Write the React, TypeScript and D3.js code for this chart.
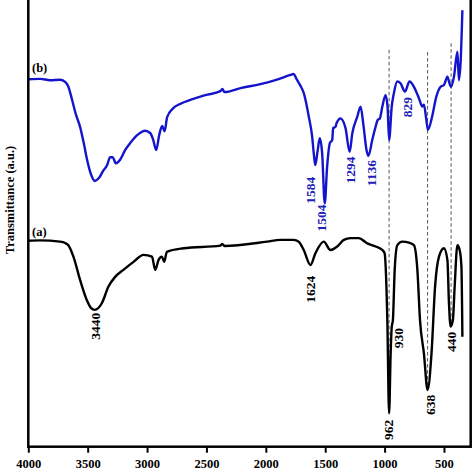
import React, { useEffect, useRef } from "react";
import * as d3 from "d3";

// FTIR spectrum (b) – blue, upper trace: [wavenumber cm-1, transmittance a.u.]
const seriesB: [number, number][] = [
  [4000, 83.5], [3900, 83.6], [3817, 83.3], [3733, 83.4], [3690, 82.9], [3665, 82.0], [3631, 78.8],
  [3598, 75.4], [3564, 72.7], [3530, 68.6], [3505, 65.2], [3471, 61.8], [3440, 60.4], [3404, 61.1],
  [3370, 62.7], [3336, 64.0], [3311, 65.8], [3290, 65.8], [3262, 64.4], [3227, 65.2], [3185, 67.4],
  [3142, 69.0], [3083, 70.8], [3016, 71.8], [2974, 71.3], [2949, 69.8], [2923, 67.4], [2898, 70.8],
  [2873, 72.9], [2852, 71.7], [2831, 74.9], [2781, 76.9], [2722, 77.9], [2636, 78.8], [2510, 79.9],
  [2383, 80.8], [2366, 81.3], [2349, 80.6], [2214, 81.5], [2046, 82.4], [1920, 83.3], [1793, 84.5],
  [1768, 84.7], [1736, 83.3], [1708, 82.0], [1681, 80.4], [1638, 75.0], [1610, 70.5], [1595, 66.3],
  [1584, 64.0], [1563, 67.4], [1546, 70.1], [1526, 66.8], [1504, 55.3], [1484, 63.6], [1461, 69.0],
  [1441, 69.7], [1433, 72.4], [1413, 72.7], [1405, 73.5], [1371, 74.6], [1329, 72.4], [1294, 67.0],
  [1272, 71.2], [1230, 75.0], [1202, 77.3], [1180, 73.5], [1152, 67.4], [1136, 66.1], [1104, 69.7],
  [1076, 72.7], [1057, 74.3], [1040, 74.6], [1019, 77.3], [992, 79.9], [975, 77.3], [962, 69.7],
  [940, 77.3], [922, 80.3], [894, 83.0], [866, 82.6], [829, 80.7], [790, 83.0], [753, 81.8],
  [711, 79.2], [682, 77.3], [669, 77.7], [650, 74.6], [635, 72.0], [600, 75.0], [565, 79.5],
  [528, 81.8], [500, 82.2], [471, 84.1], [458, 83.0], [440, 81.8], [416, 84.1], [387, 89.8],
  [374, 83.3], [359, 87.9], [345, 99.2],
];

// FTIR spectrum (a) – black, lower trace
const seriesA: [number, number][] = [
  [4000, 46.8], [3900, 46.9], [3733, 46.6], [3690, 46.3], [3663, 45.8], [3620, 43.2], [3564, 37.9],
  [3507, 33.3], [3471, 31.5], [3440, 31.1], [3381, 32.6], [3325, 36.4], [3269, 38.6], [3199, 40.2],
  [3114, 42.0], [3030, 43.6], [2959, 43.2], [2931, 40.2], [2904, 42.4], [2875, 43.2], [2856, 42.0],
  [2833, 44.3], [2693, 45.1], [2383, 45.7], [2366, 46.1], [2349, 45.6], [1989, 46.6], [1877, 47.0],
  [1765, 47.0], [1723, 46.6], [1681, 44.7], [1624, 41.3], [1582, 44.0], [1512, 46.6], [1456, 44.7],
  [1399, 45.5], [1343, 47.0], [1287, 47.4], [1217, 47.4], [1146, 46.2], [1076, 45.5], [1019, 44.7],
  [1000, 44.0], [977, 28.8], [962, 7.6], [949, 21.3], [940, 27.2], [930, 28.8], [915, 40.2],
  [893, 45.8], [851, 46.6], [795, 46.4], [753, 45.8], [724, 40.2], [702, 28.8], [669, 21.2],
  [638, 12.9], [605, 21.2], [575, 36.4], [542, 43.2], [500, 45.1], [471, 42.4], [458, 32.6],
  [444, 27.3], [425, 28.8], [410, 36.4], [387, 45.8], [368, 44.7], [353, 40.9], [345, 25.0],
];

const xTicks = [4000, 3500, 3000, 2500, 2000, 1500, 1000, 500];

// peak annotations: text, label centre wavenumber, label centre transmittance
const labelsB: [string, number, number][] = [
  ["1584", 1628, 58.3], ["1504", 1530, 52.0], ["1294", 1283, 62.9], ["1136", 1109, 62.2], ["829", 806, 77.2],
];
const labelsA: [string, number, number][] = [
  ["3440", 3438, 27.4], ["1624", 1628, 35.8], ["930", 884, 24.7], ["962", 963, 3.8], ["638", 612, 9.5], ["440", 435, 23.8],
];

// dashed guide lines: wavenumber, top value, bottom value
const guides: [number, number, number][] = [
  [962, 90.2, 8.3], [638, 89.7, 14.0], [440, 91.7, 27.7],
];

const W = 474, H = 474;
const FONT = "'Liberation Serif', 'Times New Roman', serif";

export default function App() {
  const axisRef = useRef<SVGGElement>(null);
  const x = d3.scaleLinear().domain([4000, 275]).range([28.3, 470.7]);
  const y = d3.scaleLinear().domain([0, 100]).range([446.7, 6.7]);

  useEffect(() => {
    if (!axisRef.current) return;
    const g = d3.select(axisRef.current);
    g.selectAll("*").remove();
    g.call(d3.axisBottom(x).tickValues(xTicks).tickSize(6).tickSizeOuter(0).tickFormat(d3.format("d")));
    g.select(".domain").remove();
    g.selectAll(".tick line").attr("stroke", "#000").attr("stroke-width", 2);
    g.selectAll(".tick text")
      .attr("font-family", FONT)
      .attr("font-weight", "bold")
      .attr("font-size", 12.5)
      .attr("fill", "#000")
      .attr("dy", "0.95em");
  }, []);

  const line = d3
    .line<[number, number]>()
    .x((d) => x(d[0]))
    .y((d) => y(d[1]))
    .curve(d3.curveMonotoneX);

  const blue = "#1414cc";

  return (
    <svg width={W} height={H} style={{ position: "absolute", left: 0, top: 0, background: "#fff" }}>
      <rect x={0} y={0} width={W} height={H} fill="#fff" />
      {guides.map(([wn, t, b]) => (
        <line key={wn} x1={x(wn)} x2={x(wn)} y1={y(t)} y2={y(b)} stroke="#555" strokeWidth={1} strokeDasharray="3.5,2.5" />
      ))}
      <path d={line(seriesB) || ""} fill="none" stroke={blue} strokeWidth={2.4} strokeLinejoin="round" />
      <path d={line(seriesA) || ""} fill="none" stroke="#000" strokeWidth={2.4} strokeLinejoin="round" />
      {/* frame */}
      <rect x={x(4000)} y={-5} width={x(275) - x(4000)} height={y(0) + 5} fill="none" stroke="#000" strokeWidth={2.5} />
      <g ref={axisRef} transform={`translate(0,${y(0)})`} />
      {labelsB.map(([t, wn, v]) => (
        <text key={t} transform={`translate(${x(wn)},${y(v)}) rotate(-90)`} textAnchor="middle" dominantBaseline="central"
          fontFamily={FONT} fontWeight="bold" fontSize={13.5} fill="#2020b8">{t}</text>
      ))}
      {labelsA.map(([t, wn, v]) => (
        <text key={t} transform={`translate(${x(wn)},${y(v)}) rotate(-90)`} textAnchor="middle" dominantBaseline="central"
          fontFamily={FONT} fontWeight="bold" fontSize={13.5} fill="#000">{t}</text>
      ))}
      <text x={32} y={68} dominantBaseline="central" fontFamily={FONT} fontWeight="bold" fontSize={12.5} fill="#000">(b)</text>
      <text x={32} y={232} dominantBaseline="central" fontFamily={FONT} fontWeight="bold" fontSize={12.5} fill="#000">(a)</text>
      <text transform={`translate(10,200) rotate(-90)`} textAnchor="middle" dominantBaseline="central"
        fontFamily={FONT} fontWeight="bold" fontSize={12.5} fill="#000">Transmittance (a.u.)</text>
    </svg>
  );
}
